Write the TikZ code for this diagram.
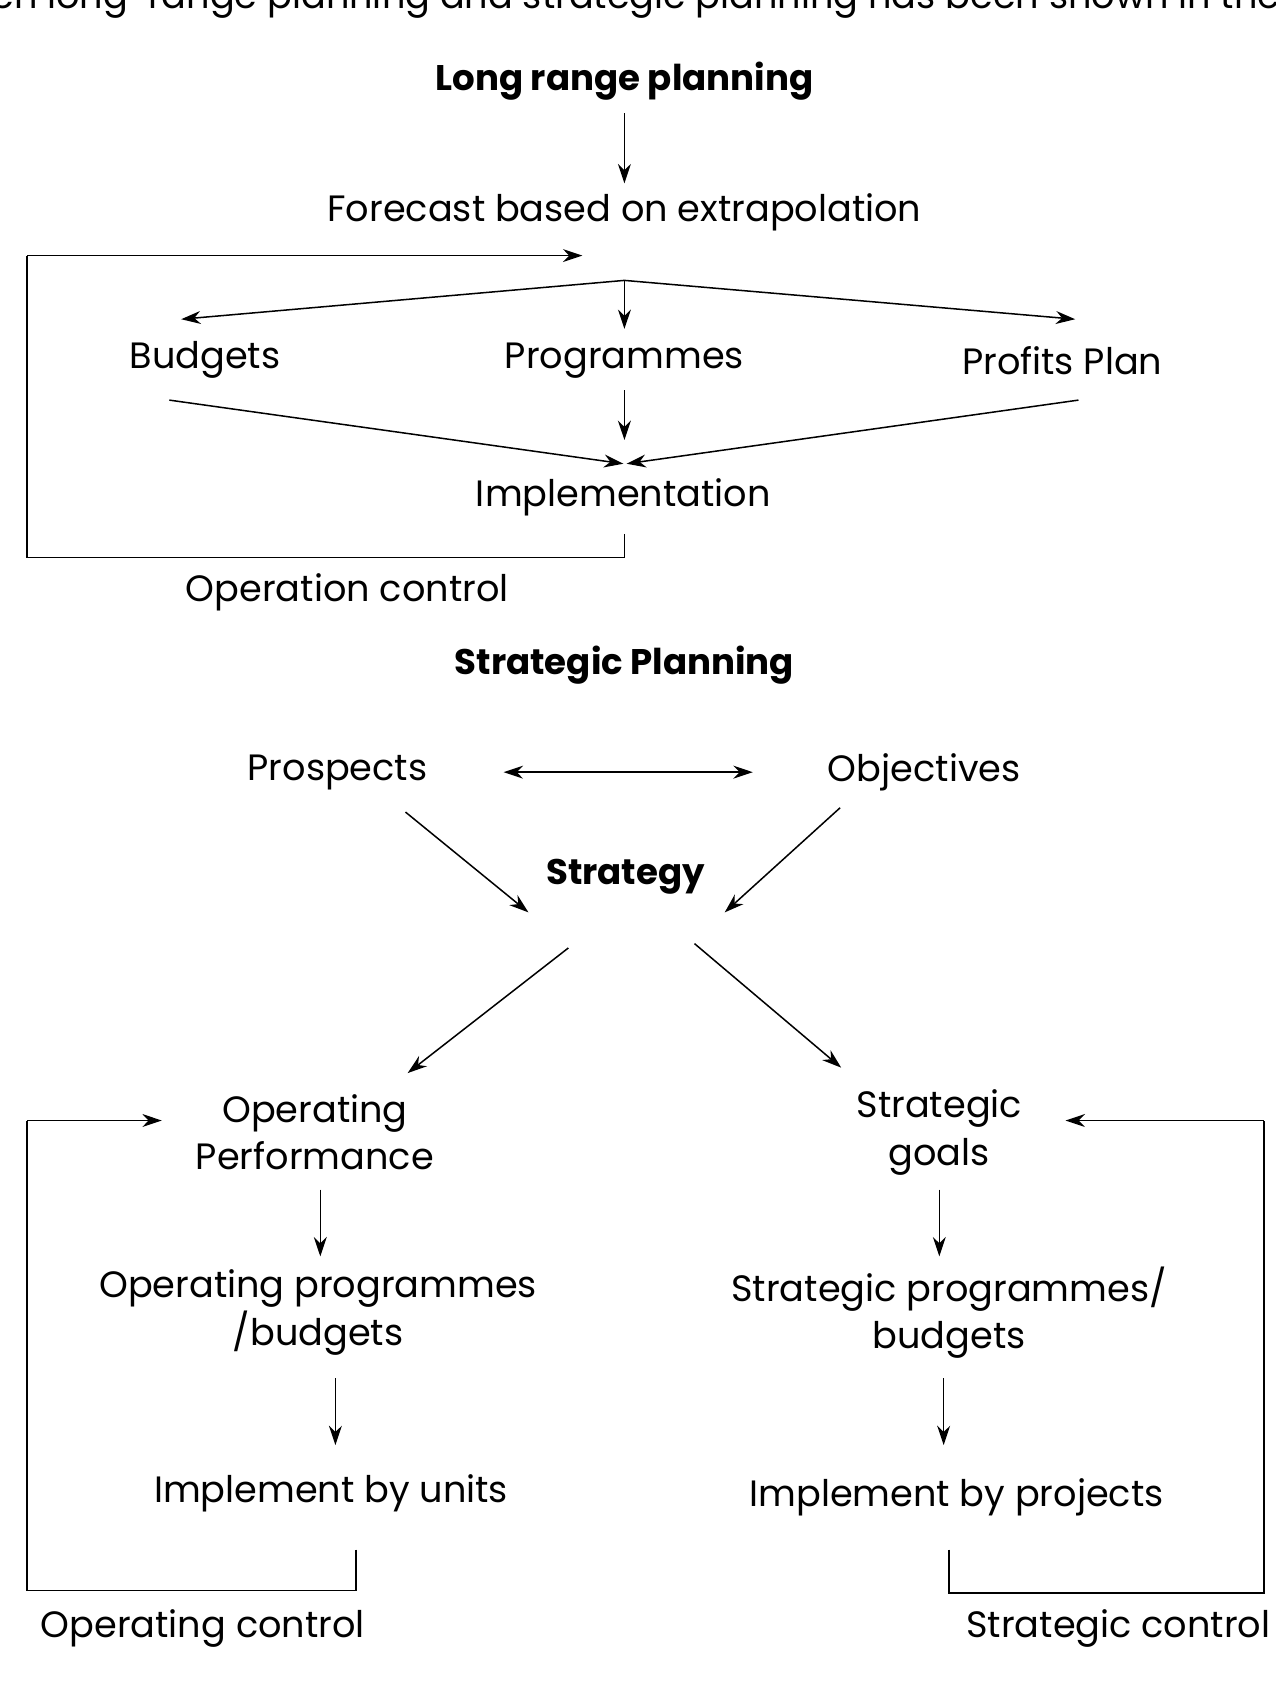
\documentclass[tikz,border=0pt]{standalone}
\usepackage{fontspec}
\setmainfont{Poppins}
\usetikzlibrary{arrows.meta}
\begin{document}
\begin{tikzpicture}[x=0.5pt,y=-0.5pt,
  t/.style={inner sep=0pt,font=\fontsize{17}{22}\selectfont},
  b/.style={t,font=\fontsize{16.5}{22}\selectfont\bfseries},
  a/.style={-{Stealth[length=9pt,width=6pt]},line width=0.7pt},
  l/.style={line width=0.7pt}]
\useasboundingbox[clip] (0,0) rectangle (1183,1568);
\node[t] (top) at (579,0) {een long-range planning and strategic planning has been shown in the};
\node[b] (lrp) at (579,75) {Long range planning};
\node[t] (fc) at (579,197) {Forecast based on extrapolation};
\node[t] (bud) at (190,334) {Budgets};
\node[t] (prog) at (579,334) {Programmes};
\node[t] (pp) at (985,334) {Profits Plan};
\node[t] (impl) at (578,461) {Implementation};
\node[t] (oc) at (322,549) {Operation control};
\node[b] (sp) at (579,617) {Strategic Planning};
\node[t] (pros) at (313,716) {Prospects};
\node[t] (obj) at (857,716) {Objectives};
\node[b] (str) at (580,813) {Strategy};
\node[t,align=center] (op) at (292,1050) {Operating\\Performance};
\node[t,align=center] (sg) at (871,1050) {Strategic\\goals};
\node[t,align=center] (opb) at (295,1217) {Operating programmes\\/budgets};
\node[t,align=center] (spb) at (880,1217) {Strategic programmes/\\budgets};
\node[t] (iu) at (307,1385) {Implement by units};
\node[t] (ip) at (887,1388) {Implement by projects};
\node[t] (opc) at (188,1510) {Operating control};
\node[t] (stc) at (1037,1510) {Strategic control};
% long range
\draw[a] (579,105) -- (579,170);
\coordinate (br) at (579,260);
\draw[a] (br) -- (168,296);
\draw[a] (br) -- (579,305);
\draw[a] (br) -- (997,296);
\draw[a] (157,371) -- (578,430);
\draw[a] (579,362) -- (579,408);
\draw[a] (1000,371) -- (581,430);
\draw[l] (579,495) -- (579,517) -- (25,517) -- (25,237);
\draw[a] (25,237) -- (540,237);
% strategic
\draw[{Stealth[length=9pt,width=6pt]}-{Stealth[length=9pt,width=6pt]},line width=0.7pt] (467,716) -- (698,716);
\draw[a] (376,753) -- (490,846);
\draw[a] (779,749) -- (672,846);
\draw[a] (527,879) -- (378,995);
\draw[a] (644,875) -- (780,990);
\draw[a] (297,1103) -- (297,1165);
\draw[a] (871,1103) -- (871,1165);
\draw[a] (311,1278) -- (311,1340);
\draw[a] (875,1278) -- (875,1340);
\draw[l] (330,1437) -- (330,1475) -- (25,1475) -- (25,1039);
\draw[a] (25,1039) -- (150,1039);
\draw[l] (880,1437) -- (880,1477) -- (1172,1477) -- (1172,1039);
\draw[a] (1172,1039) -- (988,1039);
\end{tikzpicture}
\end{document}
